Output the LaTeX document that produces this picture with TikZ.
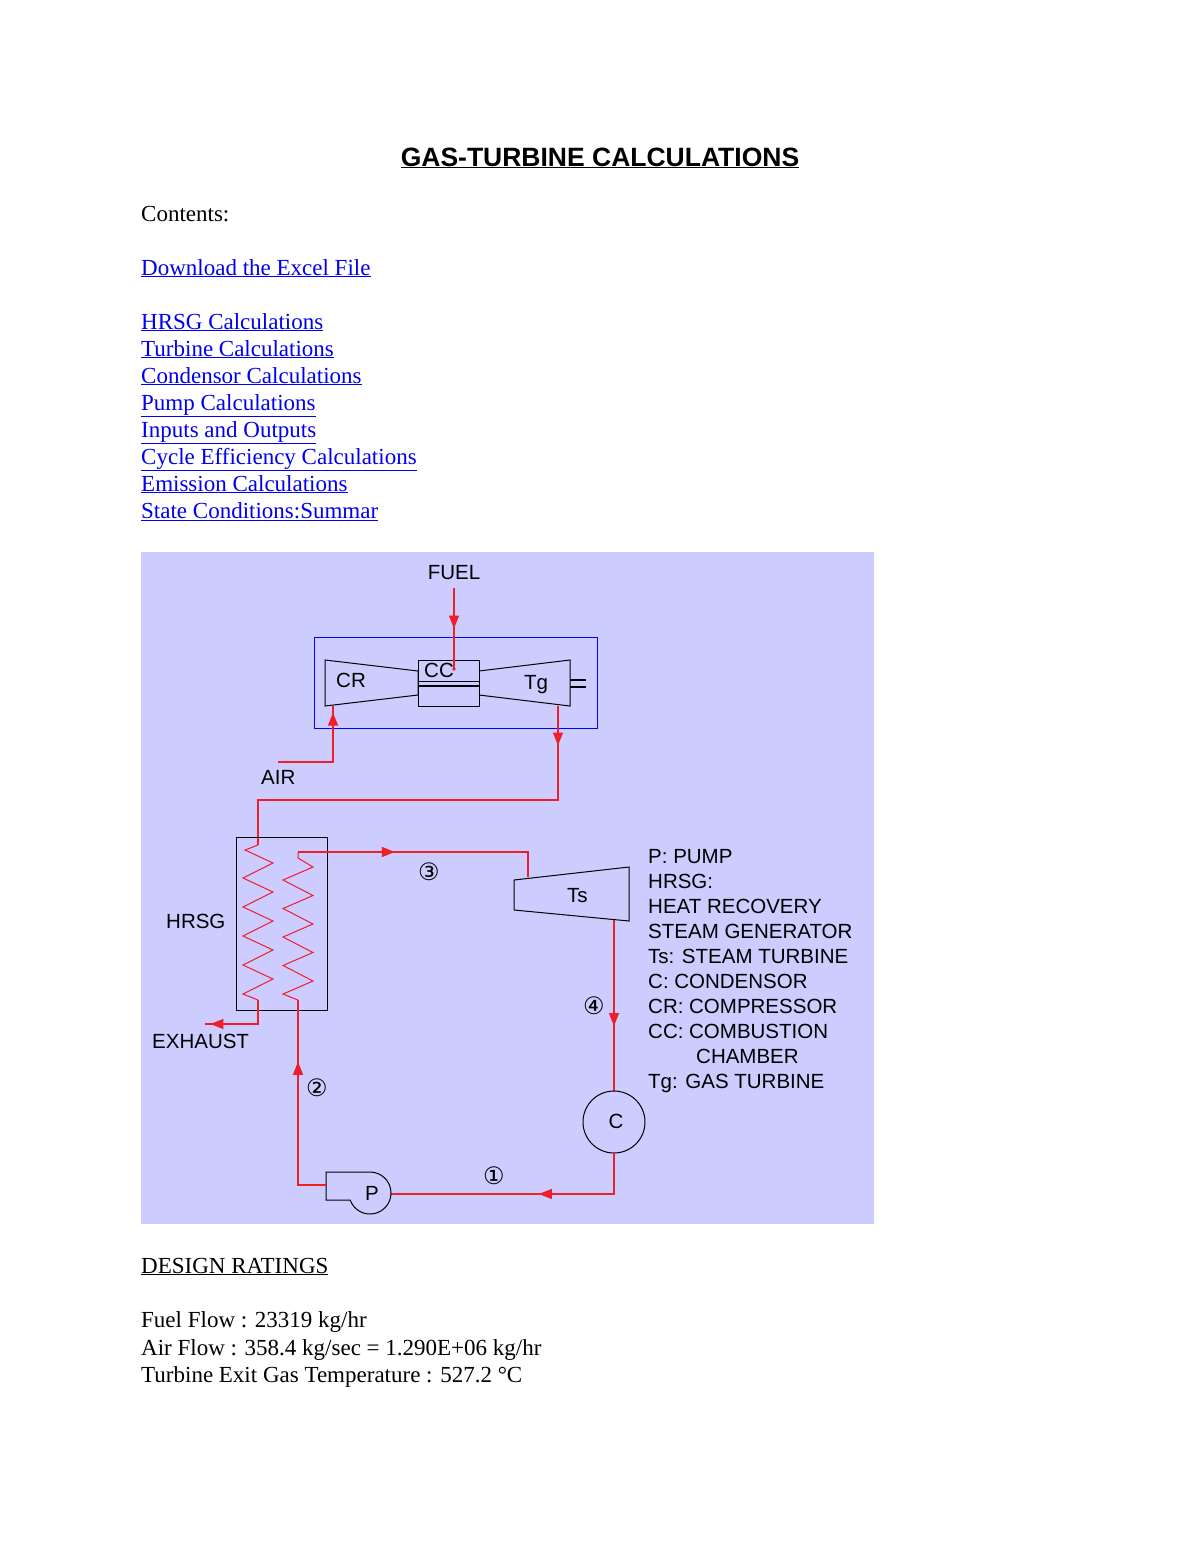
\documentclass[tikz,border=0pt]{standalone}
\usepackage{fontspec}
\setmainfont{Liberation Serif}
\setsansfont{Liberation Sans}
\newfontfamily\symf{DejaVu Sans}
\usetikzlibrary{arrows.meta,decorations.markings}
\definecolor{bg}{RGB}{204,204,255}
\definecolor{lnk}{RGB}{0,0,238}
\definecolor{pipec}{RGB}{240,30,40}
\tikzset{
  pipe/.style={draw=pipec,line width=1.2pt},
  arr/.style={postaction={decorate},decoration={markings,mark=at position #1 with {\arrow[pipec]{Triangle[length=13pt,width=10pt]}}}},
  eq/.style={draw=black,line width=1pt},
  lab/.style={font=\sffamily\fontsize{20.5}{24}\selectfont,inner sep=0pt,anchor=base west},
  lnkt/.style={font=\fontsize{23}{27}\selectfont,text=lnk,inner sep=0pt,anchor=base west},
  txt/.style={font=\fontsize{23}{27}\selectfont,inner sep=0pt,anchor=base west},
  num/.style={font=\symf\fontsize{24}{24}\selectfont,inner sep=0pt}
}
\begin{document}
\begin{tikzpicture}[x=1pt,y=-1pt]
\useasboundingbox (0,0) rectangle (1200,1553);
\fill[white] (0,0) rectangle (1200,1553);
\node[font=\sffamily\bfseries\fontsize{26.5}{30}\selectfont,inner sep=0pt,anchor=base] (title) at (600,166) {\underline{GAS-TURBINE CALCULATIONS}};
\node[txt] (cont) at (141,221) {Contents:};
\node[lnkt] (l0) at (141,275) {\underline{Download the Excel File}};
\foreach \t [count=\i] in {HRSG Calculations,Turbine Calculations,Condensor Calculations,Pump Calculations,Inputs and Outputs,Cycle Efficiency Calculations,Emission Calculations,State Conditions:Summar}
  \node[lnkt] (l\i) at (141,302+27*\i) {\underline{\t}};
% diagram background
\fill[bg] (141,552) rectangle (874,1224);
% GT block
\draw[blue,line width=1pt] (314,637) rectangle (597,728);
\draw[eq] (325,660) -- (418,671) -- (418,695) -- (325,706) -- cycle;
\draw[eq] (418,660) rectangle (479,706);
\draw[eq] (418,681) -- (479,681);
\draw[eq,line width=1.8pt] (418,686) -- (479,686);
\draw[eq] (479,671) -- (570,660) -- (570,706) -- (479,695);
\draw[eq,line width=1.5pt] (570,680) -- (586,680) (570,687) -- (586,687);
\node[lab] (cr) at (336,687) {CR};
\node[lab] (cc) at (424,677) {CC};
\node[lab] (tg) at (524,689) {Tg};
\node[lab,anchor=base] (fuel) at (454,579) {FUEL};
\coordinate (fuelin) at (454,588);
\coordinate (ccin) at (454,669);
\draw[pipe,arr=0.5] (fuelin) -- (ccin);
\fill[pipec] (ccin) circle (1.8);
\node[lab] (air) at (261,784) {AIR};
\draw[pipe,arr=0.94] (278,762) -- (333,762) -- (333,706);
\draw[pipe,arr=0.09] (558,706) -- (558,800) -- (258,800) -- (258,845);
% HRSG
\draw[eq] (236,837) rectangle (327,1010);
\node[lab] (hrsg) at (166,928) {HRSG};
\draw[pipe,line width=1pt] (258,845) -- (245,850) \foreach \k in {0,...,4} {-- (273,{863+\k*29}) -- (243,{878+\k*29})} -- (258,1000);
\draw[pipe,arr=0.93] (258,1000) -- (258,1024) -- (205,1024);
\node[lab] (exh) at (152,1048) {EXHAUST};
\draw[pipe,line width=1pt] (298,852) -- (298,858) \foreach \k in {0,...,4} {-- (313,{867+\k*28.5}) -- (283,{880+\k*28.5})} -- (298,1000);
\draw[pipe,arr=0.38] (298,852) -- (528,852) -- (528,877);
\node[num] (n3) at (429,872) {③};
% steam turbine
\draw[eq] (514,880) -- (629,867) -- (629,921) -- (514,910) -- cycle;
\node[lab] (ts) at (567,902) {Ts};
\draw[pipe,arr=0.62] (614,920) -- (614,1091);
\node[num] (n4) at (594,1006) {④};
% condenser
\draw[eq] (614,1122) circle (31);
\node[lab,anchor=center] (c) at (616,1121) {C};
\draw[pipe,arr=0.44] (614,1153) -- (614,1194) -- (391,1194);
\node[num] (n1) at (494,1176) {①};
% pump
\draw[eq] (326,1172) -- (370,1172) arc[start angle=-90,end angle=160,radius=21] -- (326,1200) -- cycle;
\node[lab,anchor=center] (p) at (372,1193) {P};
\draw[pipe,arr=0.71] (326,1185) -- (298,1185) -- (298,1000);
\node[num] (n2) at (317,1088) {②};
% legend
\foreach \t [count=\i] in {P: PUMP,HRSG:,HEAT RECOVERY,STEAM GENERATOR,Ts: STEAM TURBINE,C: CONDENSOR,CR: COMPRESSOR,CC: COMBUSTION,\hspace*{48pt}CHAMBER,Tg: GAS TURBINE}
  \node[lab] (g\i) at (648,838+25*\i) {\t};
% design ratings
\node[txt] (dr) at (141,1273) {\underline{DESIGN RATINGS}};
\node[txt] (d1) at (141,1327) {Fuel Flow : 23319 kg/hr};
\node[txt] (d2) at (141,1355) {Air Flow : 358.4 kg/sec = 1.290E+06 kg/hr};
\node[txt] (d3) at (141,1382) {Turbine Exit Gas Temperature : 527.2 \textdegree C};
\end{tikzpicture}
\end{document}
